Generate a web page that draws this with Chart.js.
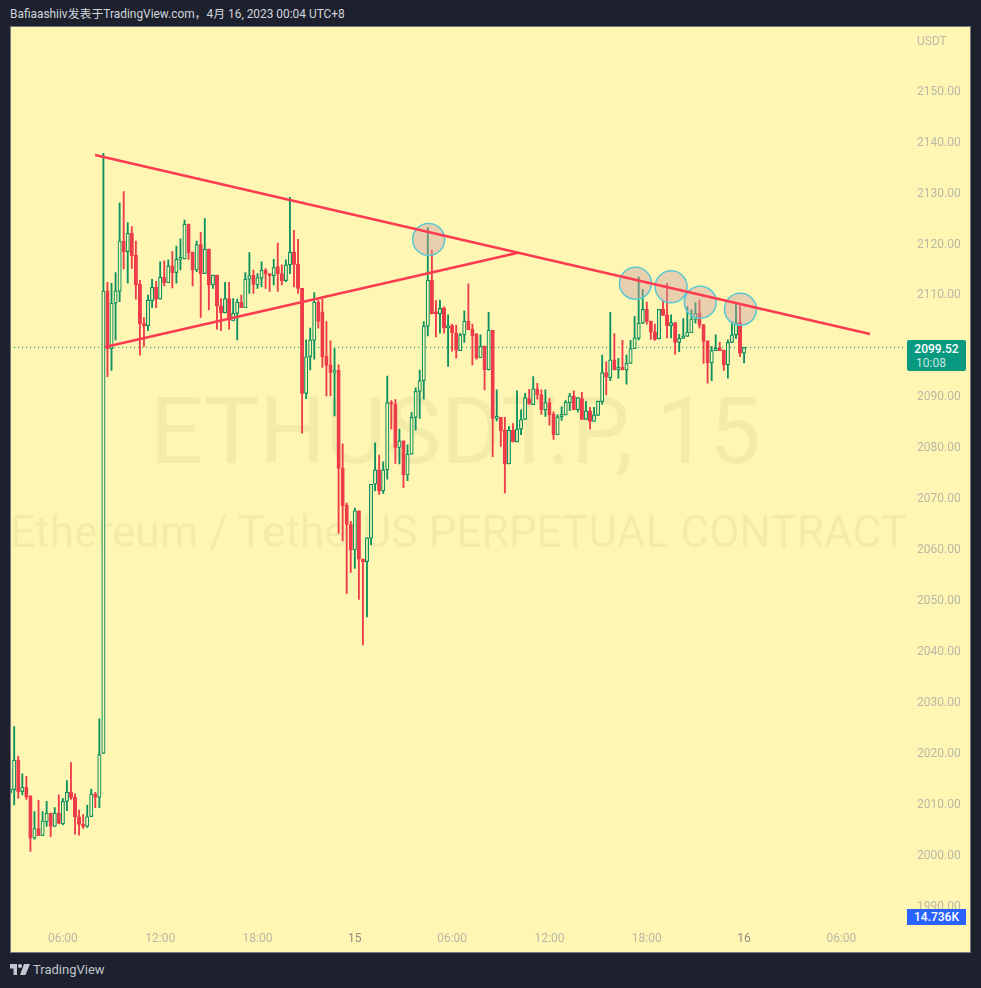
<!DOCTYPE html>
<html>
<head>
<meta charset="utf-8">
<title>ETHUSDT.P, 15</title>
<script src="https://cdn.jsdelivr.net/npm/chart.js@4"></script>
<style>
    html, body { margin: 0; padding: 0; }
    body { width: 981px; height: 988px; background: #1c212d; position: relative; overflow: hidden; font-family: Roboto, "Noto Sans CJK SC", sans-serif; }
    #head { position: absolute; left: 10px; top: 6px; font-size: 11.9px; line-height: 16px; color: #d1d4dc; white-space: nowrap; }
    #plot { position: absolute; left: 10px; top: 26px; width: 959px; height: 925px; background: #fff6b4; border: 1px solid #77797c; overflow: hidden; }
    #chartBox { position: absolute; left: 0; top: 0; width: 959px; height: 925px; }
    .mark { position: absolute; white-space: nowrap; color: rgba(165, 160, 90, 0.12); }
    #mark1 { left: 139px; top: 355px; font-size: 93px; line-height: 100px; }
    #mark2 { left: -1px; top: 479px; font-size: 44.2px; line-height: 52px; }
    #unit { position: absolute; left: 906px; top: 6px; font-size: 12px; line-height: 16px; color: #bdbcab; }
    .tag { position: absolute; left: 896px; width: 59px; border-radius: 2px; color: #fff; font-size: 12px; font-weight: 500; text-align: center; }
    #priceTag { top: 313px; height: 31px; background: #089981; line-height: 14px; padding-top: 2px; box-sizing: border-box; }
    #priceTag span { display: block; color: #c7e8df; font-weight: 400; text-align: left; padding-left: 9px; }
    #volTag { top: 882px; height: 16px; line-height: 16px; background: #2962ff; border-radius: 0; }
    #logo { position: absolute; left: 10px; top: 964px; }
    #brand { position: absolute; left: 33px; top: 962px; font-size: 13px; line-height: 16px; color: #c3c6ce; }
</style>
</head>
<body>

<div id="head">Bafiaashiiv发表于TradingView.com，4月 16, 2023 00:04 UTC+8</div>

<div id="plot">
    <div class="mark" id="mark1">ETHUSDT.P, 15</div>
    <div class="mark" id="mark2">Ethereum / TetherUS PERPETUAL CONTRACT</div>
    <div id="chartBox"><canvas id="chart"></canvas></div>
    <div id="unit">USDT</div>
    <div class="tag" id="priceTag">2099.52<span>10:08</span></div>
    <div class="tag" id="volTag">14.736K</div>
</div>

<svg id="logo" width="20" height="11" viewBox="0 0 20 11">
    <path d="M0 0h7v11h-3.500v-6.500h-3.500z" fill="#c3c6ce"/>
    <circle cx="10" cy="2" r="2" fill="#c3c6ce"/>
    <path d="M14 0h6l-4.500 11h-5.500z" fill="#c3c6ce"/>
</svg>
<div id="brand">TradingView</div>

<script>
// 15 minute candles, first one is cut off by the left edge
const opens = [2012.2,
    2012.8,2018.6,2012.4,2013.3,2011.6,2003.3,2005.2,2003.8,2006.5,2008.2,
    2005.6,2008.2,2006.1,2010.5,2012.3,2011.3,2007.5,2006,2005.6,2007.5,
    2012,2011.3,2019.9,2110.6,2099.3,2108.2,2110.5,2120.4,2118.3,2121.9,
    2117.6,2111.9,2104.2,2103.8,2108.7,2111.3,2109,2113.3,2112.2,2115.5,
    2114.2,2116.8,2116.9,2123.7,2118.2,2114.7,2119.7,2114,2118.8,2111.8,
    2113.7,2107.7,2106.3,2109.1,2104.7,2106.2,2108.4,2107.3,2112.9,2113.7,
    2111.8,2113.1,2114.7,2114,2113.6,2115.4,2114,2112.6,2115.7,2118.2,
    2115.8,2111.1,2090.5,2097.7,2100.9,2108.4,2106.5,2097.8,2096.1,2094.6,
    2095.1,2075.8,2068.6,2064.8,2059.8,2067.5,2058,2057.5,2062.1,2072.7,
    2075.5,2071.4,2075.5,2088.7,2088.4,2079.9,2081.2,2074.5,2078.6,2085.8,
    2090.9,2093,2103.7,2112.7,2106.2,2106.1,2107.2,2103.4,2103.8,2102.4,
    2098.9,2102,2104.7,2103.1,2102.1,2097.5,2099.8,2095.1,2102.9,2085.6,
    2085.8,2083.3,2076.7,2083.3,2081,2083.5,2085.4,2089.5,2088.3,2091.4,
    2090.3,2087.3,2088.7,2086.4,2082.4,2085.9,2086.3,2088.7,2090,2087.3,
    2089.5,2085.4,2087.1,2085,2086.2,2088.9,2094.6,2093.6,2097.1,2095.1,
    2095.6,2095.1,2096.4,2099.3,2101.3,2104.3,2107,2104.7,2102.6,2101.2,
    2107,2105.9,2103.8,2104.4,2100.5,2101.3,2101.7,2102.4,2105,2106.2,
    2104,2100.8,2096.5,2098.9,2099.4,2099,2096.1,2100.5,2102,2104.4,2098.4];

const closes = [2012.9,
    2018.6,2012.4,2013.3,2011.4,2003.3,2005.2,2003.8,2006.7,2008.2,2005.6,
    2008.2,2006.2,2010.5,2012.3,2011.3,2007.5,2006,2005.6,2007.5,2012,
    2011.3,2019.7,2110.6,2099.3,2108.2,2110.6,2120.4,2118.3,2121.9,2117.5,
    2111.8,2104.2,2103.8,2108.8,2111.3,2109,2113.3,2112.2,2115.5,2114.2,
    2116.8,2117,2123.7,2118.1,2114.7,2119.7,2114,2118.8,2111.8,2113.7,
    2107.7,2106.3,2109.1,2104.9,2106.2,2108.4,2107.3,2112.9,2113.6,2111.9,
    2113.2,2114.7,2114,2113.6,2115.2,2114,2112.6,2115.7,2118.2,2115.8,
    2111.1,2090.5,2097.7,2101,2108.4,2104.6,2097.7,2096,2094.6,2095.1,
    2075.8,2068.5,2064.8,2059.8,2067.5,2058,2057.5,2062.2,2072.7,2075.5,
    2071.4,2075.5,2088.7,2088.4,2079.9,2081.2,2074.5,2078.6,2085.8,2090.9,
    2093,2103.7,2112.7,2106.1,2106.1,2107.2,2103.3,2103.8,2102.4,2099,
    2102,2104.7,2103,2101.8,2097.4,2099.8,2095.1,2102.9,2085.6,2085.8,
    2083.2,2076.7,2083.3,2081,2083.5,2085.4,2089.7,2088.4,2091.4,2090.2,
    2087.3,2088.7,2086.3,2082.4,2085.9,2086.4,2088.8,2090,2087.3,2089.7,
    2085.4,2087.1,2085,2086.3,2089,2094.6,2093.7,2097.1,2095.1,2095.6,
    2095.1,2096.4,2099.3,2101.4,2104.3,2107,2104.6,2102.5,2101.1,2107,
    2105.8,2103.8,2104.4,2100.5,2101.3,2101.8,2102.5,2105.1,2106.2,2103.9,
    2100.7,2096.5,2098.9,2099.4,2098.9,2096.1,2100.5,2102,2104.4,2098.4,2099.52];

const highs = [2017,
    2025.2,2019.4,2015.9,2015.4,2011.6,2008.5,2010.7,2008.5,2010.5,2008.2,
    2009.3,2011.8,2011.1,2014.6,2018.1,2012,2008.8,2007.9,2009.8,2012.9,
    2012.3,2026.7,2137.6,2112.3,2112.1,2114.2,2127.9,2130.1,2124,2123.2,
    2120.4,2112.7,2105.4,2109.8,2112.9,2112.5,2116.3,2116.5,2116.7,2118.3,
    2119.4,2120.8,2124.5,2123.7,2118.2,2120.4,2122.1,2124.8,2118.8,2113.7,
    2113.7,2109.1,2112.3,2112.3,2109.1,2109,2109.8,2114.2,2118.1,2114.7,
    2114,2116.3,2115,2114,2116.8,2120,2115.7,2116.7,2128.95,2122.5,
    2120.7,2111.1,2101,2103.3,2110.3,2108.8,2109,2104.6,2100.8,2099.3,
    2096.1,2080.6,2069,2065.4,2068,2067.5,2058,2062.2,2072.7,2080.8,
    2078.4,2077.1,2093.9,2089.1,2089.3,2083.5,2081.2,2080.4,2086.8,2091.6,
    2095.1,2104.6,2123,2118.6,2108.7,2108.8,2107.5,2105.9,2104.1,2103.9,
    2102.3,2106.7,2112,2104.1,2102.3,2102,2099.8,2106.4,2102.9,2091.2,
    2085.8,2085.8,2084,2084.6,2091,2087.3,2090.5,2091.3,2093.8,2092.5,
    2091.2,2091.2,2089.5,2086.9,2086.3,2087.9,2089.1,2090.5,2091,2089.7,
    2090.7,2088.9,2087.8,2087.8,2089,2098,2096.7,2106.4,2102.2,2097.4,
    2100.9,2098,2100.9,2105.6,2113.3,2110.9,2108.4,2104.7,2104.1,2107,
    2108.8,2112.1,2105.9,2104.4,2102.1,2105.2,2107.5,2106.9,2108.3,2108.8,
    2104,2100.8,2099.7,2102,2100.5,2099,2101,2104.6,2108.2,2107.7,2099.52];

const lows = [2011.9,
    2009.8,2011.1,2011.8,2010.9,2000.7,2003.1,2003.8,2003.8,2005.6,2003.6,
    2005.6,2006.1,2005.9,2008.7,2010.9,2004.1,2003.9,2005.2,2005.4,2007.5,
    2009.3,2009.3,2019.9,2093.8,2095,2101,2108.5,2114.9,2112.1,2115,
    2109,2098,2099.7,2102.8,2107.3,2107.3,2109,2111.6,2112.2,2111.2,
    2112.1,2114.7,2116.9,2116.8,2111.6,2114.4,2105.4,2114,2106.9,2111.1,
    2103.1,2102.8,2106.3,2103.1,2104.7,2101,2107.3,2107.3,2110.1,2110.1,
    2111.1,2111.4,2111.1,2110.5,2111.8,2110.5,2111.8,2112.4,2114,2111.4,
    2110.1,2082.7,2089.5,2095.1,2097.2,2103.3,2095.6,2090,2090,2086.1,
    2063.1,2061.6,2051.3,2055.4,2056.2,2050.1,2041.2,2046.7,2060.8,2071.4,
    2070.7,2070.9,2073.7,2083.5,2076.8,2076.7,2072,2073.4,2078.6,2083.3,
    2085.6,2089.4,2101.8,2106.1,2101.6,2102.3,2102.3,2095.8,2098.8,2097.4,
    2098.9,2100.5,2103,2096.1,2097.2,2097.5,2091.2,2095.1,2078.1,2085.1,
    2080.1,2071,2076.7,2081,2081,2082.4,2085.4,2088.4,2088.3,2089.4,
    2086.4,2086,2084.3,2081.5,2082.4,2085.2,2086.3,2087.1,2087.3,2086.9,
    2085.4,2085.4,2083.5,2085,2086.2,2088.4,2090.2,2093,2095.1,2093.5,
    2095.1,2092.3,2096.4,2099.3,2101,2104.2,2104.1,2101.1,2100.9,2101.2,
    2105.8,2101.4,2101.4,2098.2,2098.7,2101.3,2101.7,2102.4,2104.3,2103.3,
    2096.4,2092.5,2093,2098.9,2098.9,2095,2093.5,2100.5,2101.3,2097.7,2096.5];

// x axis is counted in candles
const xTicks = [12, 36, 60, 84, 108, 132, 156, 180, 204];
const xLabels = ["06:00", "12:00", "18:00", "15", "06:00", "12:00", "18:00", "16", "06:00"];
const yTicks = [1990, 2000, 2010, 2020, 2030, 2040, 2050, 2060, 2070, 2080, 2090, 2100, 2110, 2120, 2130, 2140, 2150];

const lastPrice = 2099.52;

// drawings
const upperLine = [{ x: 19.93, y: 2137.25 }, { x: 211.05, y: 2102.16 }];
const lowerLine = [{ x: 22.39, y: 2099.6 }, { x: 124, y: 2118.04 }];
const circles = [
    { x: 102.2, y: 2120.7 },
    { x: 153.2, y: 2112.1 },
    { x: 162, y: 2111.4 },
    { x: 169.2, y: 2108.4 },
    { x: 179.1, y: 2107 }
];

const GREEN = "#0e9160";
const RED = "#ee3c4b";
const PAPER = "#fff6b4";

const isUp = i => closes[i] >= opens[i];

new Chart(document.getElementById("chart"), {
    type: "bar",
    data: {
        datasets: [
            {
                type: "line",
                data: [{ x: -1, y: lastPrice }, { x: 220, y: lastPrice }],
                borderColor: "#089981",
                borderWidth: 1.2,
                borderDash: [1, 3],
                pointRadius: 0,
                order: 6
            },
            {
                label: "wicks",
                data: highs.map((h, i) => ({ x: i - 1, y: [lows[i], h] })),
                backgroundColor: highs.map((h, i) => isUp(i) ? GREEN : RED),
                barThickness: 1.2,
                grouped: false,
                order: 5
            },
            {
                label: "bodies",
                data: opens.map((o, i) => ({ x: i - 1, y: [o, closes[i]] })),
                backgroundColor: opens.map((o, i) => isUp(i) ? PAPER : RED),
                borderColor: opens.map((o, i) => isUp(i) ? GREEN : RED),
                borderWidth: 1.2,
                borderSkipped: false,
                barThickness: 3.4,
                minBarLength: 2,
                grouped: false,
                order: 4
            },
            {
                type: "line",
                data: circles,
                showLine: false,
                pointRadius: 16,
                pointBackgroundColor: "rgba(205, 160, 165, 0.45)",
                pointBorderColor: "#5cc8d2",
                pointBorderWidth: 1.5,
                order: 3
            },
            {
                type: "line",
                data: upperLine,
                borderColor: "#ff3b50",
                borderWidth: 2.5,
                pointRadius: 0,
                order: 2
            },
            {
                type: "line",
                data: lowerLine,
                borderColor: "#ff3b50",
                borderWidth: 2.5,
                pointRadius: 0,
                order: 1
            }
        ]
    },
    options: {
        responsive: true,
        maintainAspectRatio: false,
        animation: false,
        layout: { padding: 0, autoPadding: false },
        plugins: { legend: { display: false }, tooltip: { enabled: false } },
        scales: {
            x: {
                type: "linear",
                offset: false,
                min: -0.789,
                max: 219.68,
                grid: { display: false, drawTicks: false },
                border: { display: false },
                afterBuildTicks: s => { s.ticks = xTicks.map(v => ({ value: v })); },
                afterFit: s => { s.height = 27; },
                ticks: {
                    autoSkip: false,
                    maxRotation: 0,
                    padding: 7,
                    color: ctx => xLabels[ctx.index].length < 3 ? "#8f8f86" : "#b9b8a6",
                    font: { family: "Roboto", size: 12 },
                    callback: (v, i) => xLabels[i]
                }
            },
            y: {
                position: "right",
                min: 1986.27,
                // the axis keeps 19px free above itself for its labels, so the top is lower than the frame
                max: 2158.59,
                grid: { display: false, drawTicks: false },
                border: { display: false },
                afterBuildTicks: s => { s.ticks = yTicks.map(v => ({ value: v })); },
                afterFit: s => { s.width = 65; },
                ticks: {
                    padding: 12,
                    labelOffset: 1.5,
                    color: "#b9b8a6",
                    font: { family: "Roboto", size: 12 },
                    callback: v => v.toFixed(2)
                }
            }
        }
    }
});
</script>
</body>
</html>
